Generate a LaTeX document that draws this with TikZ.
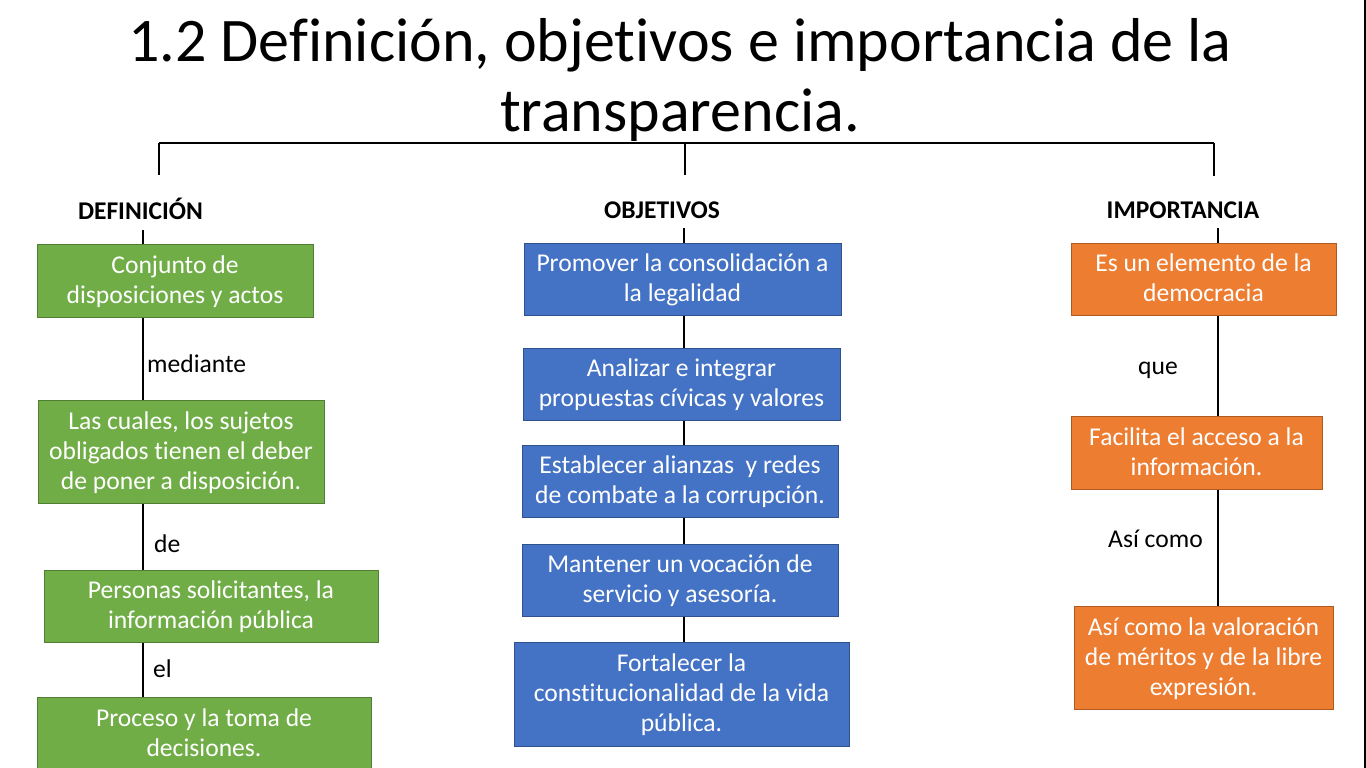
\documentclass[tikz,border=0pt]{standalone}
\usepackage{fontspec}
\setmainfont{Carlito}[Ligatures=NoCommon]
\definecolor{gfill}{HTML}{70AD47}\definecolor{gline}{HTML}{507E32}
\definecolor{bfill}{HTML}{4472C4}\definecolor{bline}{HTML}{2F528F}
\definecolor{ofill}{HTML}{ED7D31}\definecolor{oline}{HTML}{AE5A21}
\newcommand{\bst}{\rule[-7.5pt]{0pt}{30pt}}
\tikzset{
  box/.style={rectangle, line width=1pt, inner sep=0pt, align=center, text=white,
    font=\fontsize{25.6}{30}\selectfont},
  gbox/.style={box, fill=gfill, draw=gline},
  bbox/.style={box, fill=bfill, draw=bline},
  obox/.style={box, fill=ofill, draw=oline},
  head/.style={font=\fontsize{25.5}{30}\selectfont\bfseries, inner sep=0pt, anchor=base},
  lbl/.style={font=\fontsize{25.6}{30}\selectfont, inner sep=0pt},
  conn/.style={line width=2pt, black},
}
\begin{document}
\begin{tikzpicture}[x=1pt,y=-1pt]
\useasboundingbox (0,0) rectangle (1366,768);
\clip (0,0) rectangle (1366,768);
\fill[white] (0,0) rectangle (1366,768);
\fill[black] (1364,0) rectangle (1366,768);
% title
\node[align=center, inner sep=0pt, font=\fontsize{62}{70}\selectfont] (title) at (680,80)
  {1.2 Definición, objetivos e importancia de la\\transparencia.};
% bracket
\coordinate (bl) at (159,143); \coordinate (bm) at (685,143); \coordinate (br) at (1214,143);
\coordinate (bld) at (159,175); \coordinate (bmd) at (685,175); \coordinate (brd) at (1214,176);
\draw[conn] (bl) -- (br);
\draw[conn] (bl) -- (bld);
\draw[conn] (bm) -- (bmd);
\draw[conn] (br) -- (brd);
% headings
\node[head] (hdef) at (140.5,219) {DEFINICIÓN};
\node[head] (hobj) at (662,218) {OBJETIVOS};
\node[head] (himp) at (1183,218) {IMPORTANCIA};
% left column
\coordinate (dx) at (143,0);
\node[gbox, minimum width=276, minimum height=73] (d1) at (175,280.5) {\bst Conjunto de\\\bst disposiciones y actos};
\node[gbox, minimum width=286, minimum height=103] (d2) at (181,451.5) {\bst Las cuales, los sujetos\\\bst obligados tienen el deber\\\bst de poner a disposición.};
\node[gbox, minimum width=334, minimum height=72] (d3) at (211,606) {\bst Personas solicitantes, la\\\bst información pública};
\node[gbox, minimum width=334, minimum height=73] (d4) at (204,733.5) {\bst Proceso y la toma de\\\bst decisiones.};
\draw[conn] (143,230) -- (d1.north -| dx);
\draw[conn] (d1.south -| dx) -- (d2.north -| dx);
\draw[conn] (d2.south -| dx) -- (d3.north -| dx);
\draw[conn] (d3.south -| dx) -- (d4.north -| dx);
\node[lbl, anchor=base west] (lmed) at (147,372) {mediante};
\node[lbl, anchor=base west] (lde) at (154,552) {de};
\node[lbl, anchor=base west] (lel) at (153,677) {el};
% middle column
\coordinate (mx) at (684,0);
\node[bbox, minimum width=317, minimum height=72] (m1) at (682.5,279) {\bst Promover la consolidación a\\\bst la legalidad};
\node[bbox, minimum width=317, minimum height=72] (m2) at (681.5,384) {\bst Analizar e integrar\\\bst propuestas cívicas y valores};
\node[bbox, minimum width=316, minimum height=72] (m3) at (680,481) {\bst Establecer alianzas\ \ y redes\\\bst de combate a la corrupción.};
\node[bbox, minimum width=316, minimum height=72] (m4) at (680,580) {\bst Mantener un vocación de\\\bst servicio y asesoría.};
\node[bbox, minimum width=335, minimum height=104] (m5) at (681.5,694) {\bst Fortalecer la\\\bst constitucionalidad de la vida\\\bst pública.};
\draw[conn] (684,228) -- (m1.north -| mx);
\draw[conn] (m1.south -| mx) -- (m2.north -| mx);
\draw[conn] (m2.south -| mx) -- (m3.north -| mx);
\draw[conn] (m3.south -| mx) -- (m4.north -| mx);
\draw[conn] (m4.south -| mx) -- (m5.north -| mx);
% right column
\coordinate (rx) at (1218,0);
\node[obox, minimum width=265, minimum height=72] (r1) at (1203.5,279) {\bst Es un elemento de la\\\bst democracia};
\node[obox, minimum width=251, minimum height=73] (r2) at (1196.5,452.5) {\bst Facilita el acceso a la\\\bst información.};
\node[obox, minimum width=259, minimum height=103] (r3) at (1203.5,657.5) {\bst Así como la valoración\\\bst de méritos y de la libre\\\bst expresión.};
\draw[conn] (1218,228) -- (r1.north -| rx);
\draw[conn] (r1.south -| rx) -- (r2.north -| rx);
\draw[conn] (r2.south -| rx) -- (r3.north -| rx);
\node[lbl, anchor=base west] (lque) at (1138,374) {que};
\node[lbl, anchor=base west] (lasi) at (1108,547) {Así como};
\end{tikzpicture}
\end{document}
